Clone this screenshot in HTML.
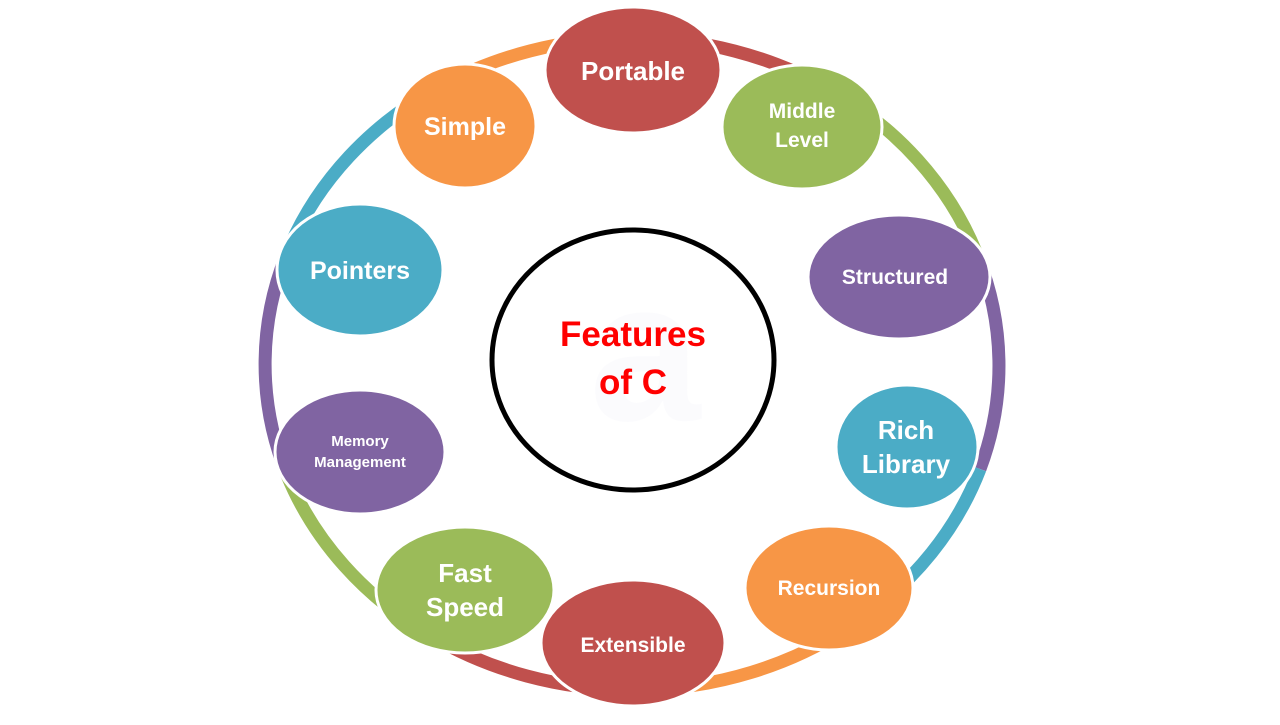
<!DOCTYPE html>
<html><head><meta charset="utf-8"><style>
html,body{margin:0;padding:0;background:#fff;}
text{font-family:"Liberation Sans",sans-serif;font-weight:bold;}
</style></head><body>
<svg width="1280" height="720" viewBox="0 0 1280 720" xmlns="http://www.w3.org/2000/svg">
<g fill="none" stroke-width="13">
<path d="M632,38 A367,326 0 0 1 829,89" stroke="#C0504D"/>
<path d="M829,89 A367,326 0 0 1 976,252" stroke="#9BBB59"/>
<path d="M976,252 A367,326 0 0 1 980,469" stroke="#8064A2"/>
<path d="M980,469 A367,326 0 0 1 858,621" stroke="#4BACC6"/>
<path d="M858,621 A367,326 0 0 1 632,690" stroke="#F79646"/>
<path d="M632,690 A367,326 0 0 1 431,636" stroke="#C0504D"/>
<path d="M431,636 A367,326 0 0 1 287,475" stroke="#9BBB59"/>
<path d="M287,475 A367,326 0 0 1 290,246" stroke="#8064A2"/>
<path d="M290,246 A367,326 0 0 1 437,88" stroke="#4BACC6"/>
<path d="M437,88 A367,326 0 0 1 632,38" stroke="#F79646"/>
</g>
<ellipse cx="633" cy="360" rx="141" ry="130" fill="#fff" stroke="#000" stroke-width="5"/>
<text x="645" y="420" font-size="200" fill="#f6f6fb" text-anchor="middle" opacity="0.35">a</text>
<text x="633" y="346" font-size="35" fill="#FF0000" text-anchor="middle">Features</text>
<text x="633" y="394" font-size="35" fill="#FF0000" text-anchor="middle">of C</text>
<g stroke="#fff" stroke-width="3">
<ellipse cx="633" cy="70" rx="88" ry="63" fill="#C0504D"/>
<ellipse cx="802" cy="127" rx="80" ry="62" fill="#9BBB59"/>
<ellipse cx="899" cy="277" rx="91" ry="62" fill="#8064A2"/>
<ellipse cx="907" cy="447" rx="71" ry="62" fill="#4BACC6"/>
<ellipse cx="829" cy="588" rx="84" ry="62" fill="#F79646"/>
<ellipse cx="633" cy="643" rx="92" ry="63" fill="#C0504D"/>
<ellipse cx="465" cy="590" rx="89" ry="63" fill="#9BBB59"/>
<ellipse cx="360" cy="452" rx="85" ry="62" fill="#8064A2"/>
<ellipse cx="360" cy="270" rx="83" ry="66" fill="#4BACC6"/>
<ellipse cx="465" cy="126" rx="71" ry="62" fill="#F79646"/>
</g>
<g fill="#fff" text-anchor="middle">
<text x="633" y="80" font-size="26">Portable</text>
<text x="802" y="118" font-size="21">Middle</text>
<text x="802" y="147" font-size="21">Level</text>
<text x="895" y="284" font-size="21">Structured</text>
<text x="906" y="439" font-size="26">Rich</text>
<text x="906" y="473" font-size="26">Library</text>
<text x="829" y="595" font-size="21">Recursion</text>
<text x="633" y="652" font-size="21">Extensible</text>
<text x="465" y="582" font-size="26">Fast</text>
<text x="465" y="616" font-size="26">Speed</text>
<text x="360" y="446" font-size="15">Memory</text>
<text x="360" y="467" font-size="15">Management</text>
<text x="360" y="279" font-size="25">Pointers</text>
<text x="465" y="135" font-size="25">Simple</text>
</g>
</svg>
</body></html>
